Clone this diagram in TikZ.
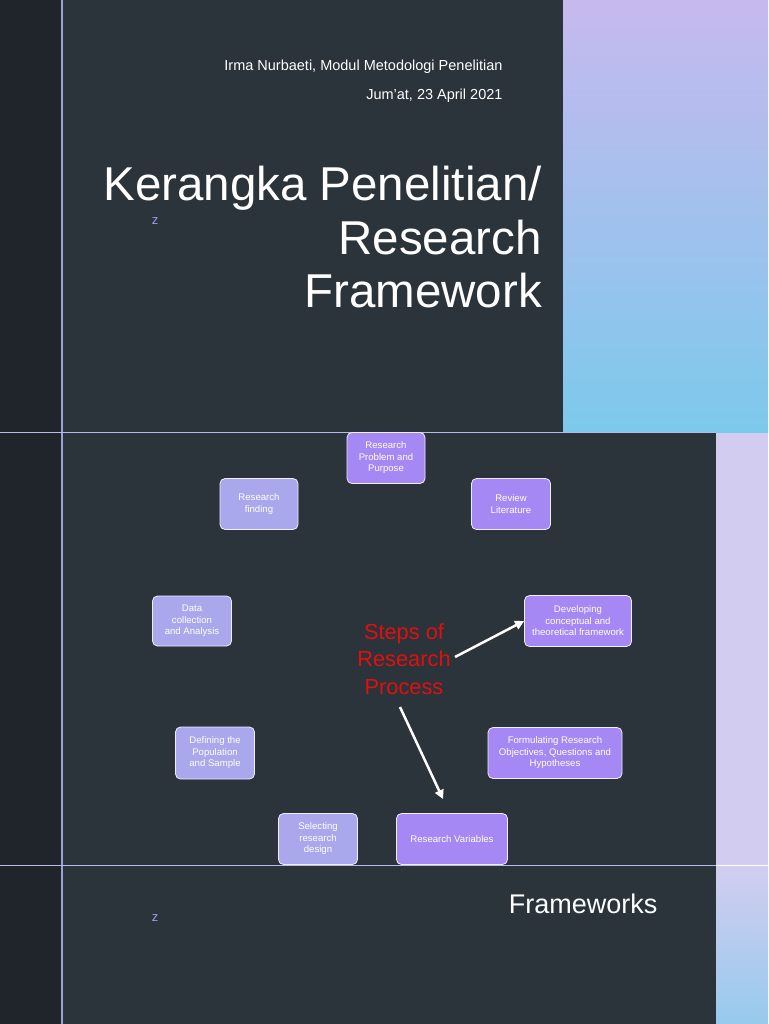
\documentclass[tikz,border=0pt]{standalone}
\usepackage{fontspec}
\setmainfont{Liberation Sans}
\usetikzlibrary{arrows.meta}
\definecolor{bgmain}{HTML}{2B333B}
\definecolor{bgside}{HTML}{1F252B}
\definecolor{lineC}{HTML}{9AA0E0}
\definecolor{boxP}{HTML}{A588F4}
\definecolor{boxB}{HTML}{A9A8EC}
\definecolor{gradTop}{HTML}{C7B9EE}
\definecolor{gradBot}{HTML}{7CC9EC}
\definecolor{lav}{HTML}{D2CDF0}
\definecolor{redT}{HTML}{E01010}
\tikzset{
  stepbox/.style={draw=white!85!boxP, line width=0.8pt, rounded corners=5pt, text=white, align=center, font=\fontsize{9.6}{11.5}\selectfont, inner sep=1pt},
  pbox/.style={stepbox, fill=boxP},
  bbox/.style={stepbox, fill=boxB},
  warr/.style={draw=white, line width=2.5pt, -{Triangle[length=9pt,width=9pt]}}
}
\begin{document}
\begin{tikzpicture}[x=1pt,y=-1pt]
\useasboundingbox (0,0) rectangle (768,1024);
% slide 1
\fill[bgside] (0,0) rectangle (62,432);
\fill[bgmain] (62,0) rectangle (563,432);
\shade[top color=gradTop, bottom color=gradBot] (563,0) rectangle (768,432);
% slide 2
\fill[bgside] (0,433) rectangle (62,865);
\fill[bgmain] (62,433) rectangle (716,865);
\fill[lav] (716,433) rectangle (768,865);
% slide 3
\fill[bgside] (0,866) rectangle (62,1024);
\fill[bgmain] (62,866) rectangle (716,1024);
\shade[top color=lav, bottom color=gradBot!70!lav] (716,866) rectangle (768,1024);
\draw[lineC, line width=1.5pt] (62,0) -- (62,1024);
\draw[lineC!70!white, line width=0.8pt] (0,432.5) -- (716,432.5);
\draw[lineC!70!white, line width=0.8pt] (0,865.5) -- (716,865.5);

\node[anchor=east, text=white, font=\fontsize{14.5}{16}\selectfont] (h1) at (506,67) {Irma Nurbaeti, Modul Metodologi Penelitian};
\node[anchor=east, text=white, font=\fontsize{14.5}{16}\selectfont] (h2) at (506,96) {Jum’at, 23 April 2021};
\node[anchor=north east, text=white, align=right, font=\fontsize{47.5}{53.5}\selectfont, inner sep=0pt] (title) at (542,166) {Kerangka Penelitian/\\Research\\Framework};
\node[text=lineC, font=\fontsize{13}{14}\selectfont] (z1) at (155,221) {z};

\node[pbox, minimum width=78pt, minimum height=51pt] (n1) at (386,458) {Research\\Problem and\\Purpose};
\node[bbox, minimum width=78pt, minimum height=51pt] (n2) at (259,504) {Research\\finding};
\node[pbox, minimum width=79pt, minimum height=51pt] (n3) at (511,504) {Review\\Literature};
\node[bbox, minimum width=79pt, minimum height=50pt] (n4) at (192,621) {Data\\collection\\and Analysis};
\node[pbox, minimum width=107pt, minimum height=51pt] (n5) at (578,621) {Developing\\conceptual and\\theoretical framework};
\node[bbox, minimum width=79pt, minimum height=52pt] (n6) at (215,753) {Defining the\\Population\\and Sample};
\node[pbox, minimum width=134pt, minimum height=51pt] (n7) at (555,753) {Formulating Research\\Objectives, Questions and\\Hypotheses};
\node[bbox, minimum width=79pt, minimum height=51pt] (n8) at (318,839) {Selecting\\research\\design};
\node[pbox, minimum width=111pt, minimum height=51pt] (n9) at (452,839) {Research Variables};

\node[text=redT, align=center, font=\fontsize{21.8}{27.5}\selectfont] (steps) at (404,659) {Steps of\\Research\\Process};
\coordinate (a1s) at (455,657);
\coordinate (a2s) at (400,707);
\coordinate (a2e) at (443,799);
\draw[warr] (a1s) -- (n5.west);
\draw[warr] (a2s) -- (a2e);

\node[anchor=east, text=white, font=\fontsize{27}{30}\selectfont] (fw) at (661,904) {Frameworks};
\node[text=lineC, font=\fontsize{13}{14}\selectfont] (z2) at (155,918) {z};
\end{tikzpicture}
\end{document}
